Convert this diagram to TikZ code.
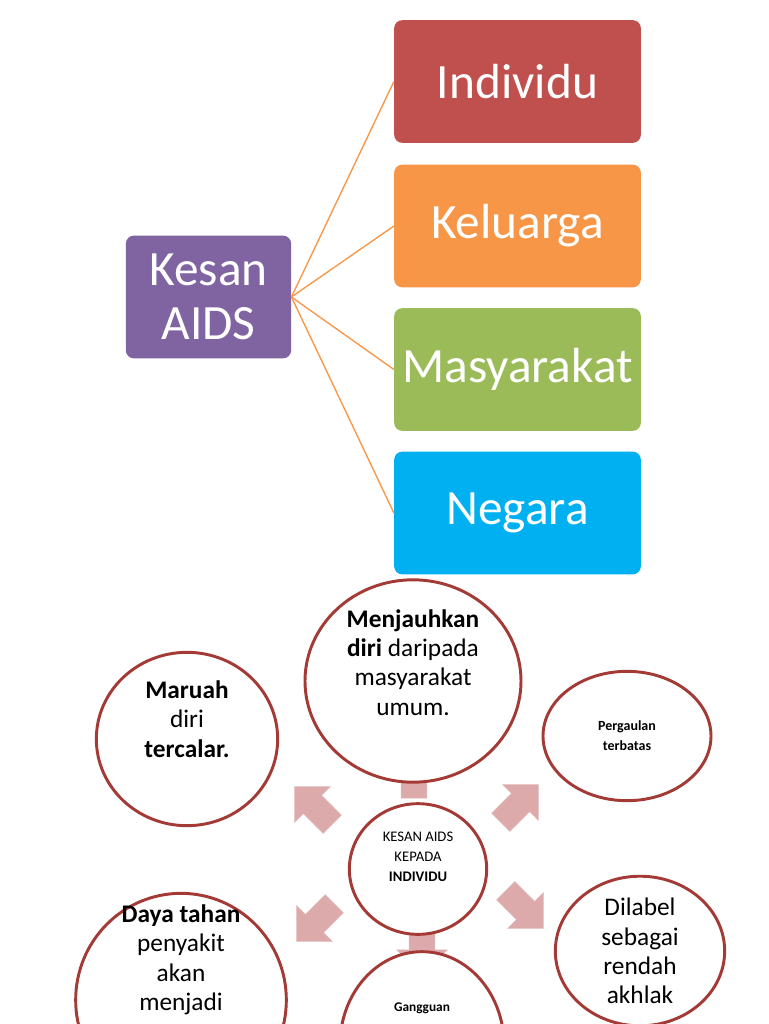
\documentclass[tikz,border=0pt]{standalone}
\usepackage{fontspec}
\setmainfont{Carlito}
\usetikzlibrary{shapes.arrows,shapes.geometric}
\definecolor{cred}{HTML}{C0504D}
\definecolor{corg}{HTML}{F79646}
\definecolor{cgrn}{HTML}{9BBB59}
\definecolor{cblu}{HTML}{00B0F0}
\definecolor{cpur}{HTML}{8064A2}
\definecolor{edge}{HTML}{A33A36}
\definecolor{pinkarr}{HTML}{DCAAAA}
\tikzset{
  box/.style={rounded corners=6pt, text=white, font=\fontsize{37}{40}\selectfont, inner sep=0pt},
  link/.style={corg, line width=1pt},
  bub/.style={ellipse, draw=edge, line width=2.2pt, fill=white, align=center, inner sep=0pt},
  big/.style={font=\fontsize{19}{22}\selectfont},
  blk/.style={single arrow, fill=pinkarr, draw=pinkarr!80!white, minimum height=40pt, minimum width=38pt, single arrow head extend=5pt, inner sep=5pt},
}
\begin{document}
\begin{tikzpicture}[x=0.75pt,y=-0.75pt]
\useasboundingbox (0,0) rectangle (768,1024);
\fill[white] (0,0) rectangle (768,1024);
% top
\node[box, fill=cred, minimum width=185pt, minimum height=92pt] (ind) at (517.5,81.5) {Individu};
\node[box, fill=corg, minimum width=185pt, minimum height=92pt] (kel) at (517.5,226) {Keluarga};
\node[box, fill=cgrn, minimum width=185pt, minimum height=92pt] (mas) at (517.5,369.5) {Masyarakat};
\node[box, fill=cblu, minimum width=185pt, minimum height=92pt] (neg) at (517.5,513) {Negara};
\node[box, fill=cpur, minimum width=124pt, minimum height=92pt, align=center] (kes) at (208.5,297) {Kesan\\AIDS};
\foreach \t in {ind,kel,mas,neg} \draw[link] (kes.east) -- (\t.west);
% arrows
\node[blk, rotate=90] (a1) at (414,778) {};
\node[blk, rotate=135] (a2) at (318,810) {};
\node[blk, rotate=45] (a3) at (515,808) {};
\node[blk, rotate=225] (a4) at (320,918) {};
\node[blk, rotate=-45] (a5) at (520,905) {};
\node[blk, rotate=270] (a6) at (422,942) {};
% bubbles
\node[bub, big, minimum width=162pt, minimum height=124pt] (men) at (413,681) {\textbf{Menjauhkan}\\\textbf{diri} daripada\\masyarakat\\umum.\\[6pt]};
\node[bub, big, minimum width=136pt, minimum height=130pt] (mar) at (187,739) {\textbf{Maruah}\\diri\\\textbf{tercalar.}\\[8pt]};
\node[bub, minimum width=126pt, minimum height=97pt, font=\fontsize{10.5}{15}\selectfont] (per) at (627,736) {\textbf{Pergaulan}\\\textbf{terbatas}};
\node[bub, minimum width=103pt, minimum height=98pt, font=\fontsize{11}{15}\selectfont] (cen) at (418,869) {KESAN AIDS\\KEPADA\\\textbf{INDIVIDU}\\[4pt]};
\node[bub, big, minimum width=127pt, minimum height=106pt] (dil) at (640,951) {Dilabel\\sebagai\\rendah\\akhlak};
\node[bub, minimum width=158pt, minimum height=160pt] (day) at (181,1000) {};
\node[big, align=center, anchor=north] (dayt) at (181,900) {\textbf{Daya tahan}\\penyakit\\akan\\menjadi};
\node[bub, minimum width=123pt, minimum height=140pt] (gan) at (422,1045) {};
\node[big, anchor=north, font=\bfseries] (gant) at (422,998) {Gangguan};
\end{tikzpicture}
\end{document}
